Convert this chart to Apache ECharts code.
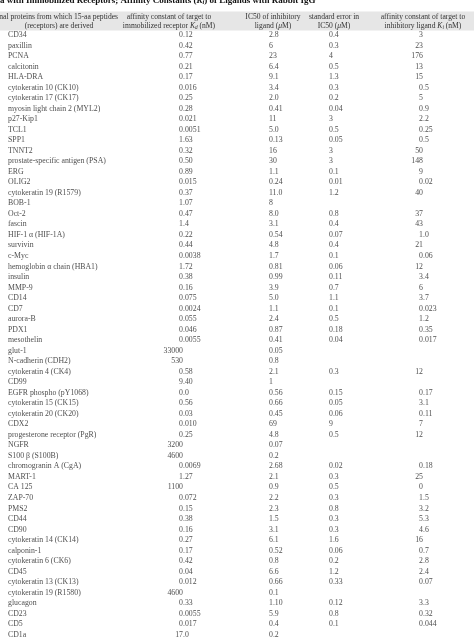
<!DOCTYPE html>
<html><head><meta charset="utf-8">
<script src="https://cdn.jsdelivr.net/npm/echarts@6/dist/echarts.min.js"></script>
<style>html,body{margin:0;padding:0;background:#fff}#c{width:474px;height:640px}</style>
</head><body><div id="c"></div>
<script>
const names = ["CD34","paxillin","PCNA","calcitonin","HLA-DRA","cytokeratin 10 (CK10)","cytokeratin 17 (CK17)","myosin light chain 2 (MYL2)","p27-Kip1","TCL1","SPP1","TNNT2","prostate-specific antigen (PSA)","ERG","OLIG2","cytokeratin 19 (R1579)","BOB-1","Oct-2","fascin","HIF-1 α (HIF-1A)","survivin","c-Myc","hemoglobin α chain (HBA1)","insulin","MMP-9","CD14","CD7","aurora-B","PDX1","mesothelin","glut-1","N-cadherin (CDH2)","cytokeratin 4 (CK4)","CD99","EGFR phospho (pY1068)","cytokeratin 15 (CK15)","cytokeratin 20 (CK20)","CDX2","progesterone receptor (PgR)","NGFR","S100 β (S100B)","chromogranin A (CgA)","MART-1","CA 125","ZAP-70","PMS2","CD44","CD90","cytokeratin 14 (CK14)","calponin-1","cytokeratin 6 (CK6)","CD45","cytokeratin 13 (CK13)","cytokeratin 19 (R1580)","glucagon","CD23","CD5","CD1a"];
const kd = ["0.12","0.42","0.77","0.21","0.17","0.016","0.25","0.28","0.021","0.0051","1.63","0.32","0.50","0.89","0.015","0.37","1.07","0.47","1.4","0.22","0.44","0.0038","1.72","0.38","0.16","0.075","0.0024","0.055","0.046","0.0055","33000","530","0.58","9.40","0.0","0.56","0.03","0.010","0.25","3200","4600","0.0069","1.27","1100","0.072","0.15","0.38","0.16","0.27","0.17","0.42","0.04","0.012","4600","0.33","0.0055","0.017","17.0"];
const ic50 = ["2.8","6","23","6.4","9.1","3.4","2.0","0.41","11","5.0","0.13","16","30","1.1","0.24","11.0","8","8.0","3.1","0.54","4.8","1.7","0.81","0.99","3.9","5.0","1.1","2.4","0.87","0.41","0.05","0.8","2.1","1","0.56","0.66","0.45","69","4.8","0.07","0.2","2.68","2.1","0.9","2.2","2.3","1.5","3.1","6.1","0.52","0.8","6.6","0.66","0.1","1.10","5.9","0.4","0.2"];
const se = ["0.4","0.3","4","0.5","1.3","0.3","0.2","0.04","3","0.5","0.05","3","3","0.1","0.01","1.2","","0.8","0.4","0.07","0.4","0.1","0.06","0.11","0.7","1.1","0.1","0.5","0.18","0.04","","","0.3","","0.15","0.05","0.06","9","0.5","","","0.02","0.3","0.5","0.3","0.8","0.3","0.3","1.6","0.06","0.2","1.2","0.33","","0.12","0.8","0.1",""];
const ki = ["3","23","176","13","15","0.5","5","0.9","2.2","0.25","0.5","50","148","9","0.02","40","","37","43","1.0","21","0.06","12","3.4","6","3.7","0.023","1.2","0.35","0.017","","","12","","0.17","3.1","0.11","7","12","","","0.18","25","0","1.5","3.2","5.3","4.6","16","0.7","2.8","2.4","0.07","","3.3","0.32","0.044",""];
const headers = [
  ["original proteins from which 15-aa peptides","(receptors) are derived"],
  ["affinity constant of target to","immobilized receptor {i|K}{s|d} (nM)"],
  ["IC50 of inhibitory","ligand ({i|μ}M)"],
  ["standard error in","IC50 ({i|μ}M)"],
  ["affinity constant of target to","inhibitory ligand {i|K}{s|i} (nM)"]
];
const titleText = "a with Immobilized Receptors; Affinity Constants ({bi|K}{bs|i}) of Ligands with Rabbit IgG";

const FONT = "Liberation Serif";
const COL = "#1a1a1a";
const baseLabel = {show:true, fontFamily:FONT, fontSize:7.8, color:COL, distance:0};

function leftSeries(arr, x){
  return {type:'scatter', symbolSize:0, silent:true,
    data: arr.map((v,i)=>v===''?null:{value:[x,names[i]], txt:v}).filter(Boolean),
    label:Object.assign({},baseLabel,{position:'right', formatter:p=>p.data.txt})};
}
function decSeries(arr, x){
  const d = arr.map((v,i)=>v===''?null:{value:[x,names[i]], ip:v.split('.')[0], fp:v.indexOf('.')>=0?'.'+v.split('.')[1]:''}).filter(Boolean);
  return [
    {type:'scatter', symbolSize:0, silent:true, data:d,
     label:Object.assign({},baseLabel,{position:'left', formatter:p=>p.data.ip})},
    {type:'scatter', symbolSize:0, silent:true, data:d.filter(e=>e.fp!==''),
     label:Object.assign({},baseLabel,{position:'right', formatter:p=>p.data.fp})}
  ];
}

const hdrCenters = [59,169,273,334,423];
const rich = {i:{fontFamily:FONT,fontSize:7.6,fontStyle:'italic',fill:'#333'}, s:{fontFamily:FONT,fontSize:5.3,fontStyle:'italic',fill:'#333',padding:[4,0,0,0]}};
const graphics = [
  {type:'rect', shape:{x:0,y:11.5,width:474,height:19}, style:{fill:'#e6e6e6'}, z:-1},
  {type:'text', x:0, y:-5, style:{text:titleText, fontFamily:FONT, fontSize:9, fontWeight:'bold', fill:'#111',
    rich:{bi:{fontFamily:FONT,fontSize:9,fontWeight:'bold',fontStyle:'italic',fill:'#111'},bs:{fontFamily:FONT,fontSize:6.5,fontWeight:'bold',fontStyle:'italic',fill:'#111',padding:[4,0,0,0]}}}}
];
headers.forEach((h,k)=>{
  h.forEach((line,j)=>{
    const g = {type:'text', y:16.5+j*9.3, style:{text:line, fontFamily:FONT, fontSize:7.6, fill:'#333', verticalAlign:'middle', rich:rich}};
    if(k===0 && j===0){ g.x=118; g.style.align='right'; } else { g.x=hdrCenters[k]; g.style.align='center'; }
    graphics.push(g);
  });
});

const chart = echarts.init(document.getElementById('c'), null, {renderer:'canvas'});
chart.setOption({
  animation:false,
  grid:{left:0, top:29.7, width:474, height:611.3},
  xAxis:{type:'value', min:0, max:474, show:false},
  yAxis:{type:'category', data:names, inverse:true, show:false},
  graphic:graphics,
  series:[leftSeries(names,8), ...decSeries(kd,183), leftSeries(ic50,269), leftSeries(se,329), ...decSeries(ki,423)]
});
</script></body></html>
